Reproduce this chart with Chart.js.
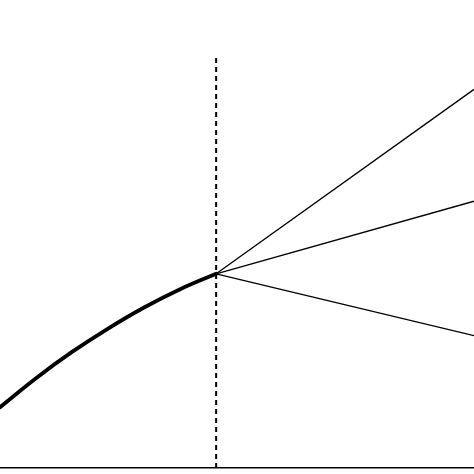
<!DOCTYPE html>
<html>
<head>
<meta charset="utf-8">
<script src="https://cdn.jsdelivr.net/npm/chart.js@4"></script>
<style>
html,body{margin:0;padding:0;background:#fff;}
#wrap{width:474px;height:474px;}
</style>
</head>
<body>
<div id="wrap"><canvas id="c" width="474" height="474"></canvas></div>
<script>
// Historical curve
const histX = [0, 7.6, 15.2, 22.8, 30.4, 38, 45.6];
const histY = [13.0, 19.2, 24.8, 29.8, 34.3, 38.2, 41.5];
// Projection scenarios (start at split point, end at right edge)
const projX = [45.6, 100];
const projHigh = [41.5, 80.9];
const projMid = [41.5, 57.0];
const projLow = [41.5, 28.3];
// Vertical marker
const markerX = [45.6, 45.6];
const markerY = [0, 88.4];

const pts = (xs, ys) => xs.map((x, i) => ({x: x, y: ys[i]}));

new Chart(document.getElementById('c'), {
  type: 'line',
  data: {
    datasets: [
      {data: pts(histX, histY), borderColor: '#000', borderWidth: 3.8, pointRadius: 0, tension: 0.4, borderCapStyle: 'round', borderJoinStyle: 'round'},
      {data: pts(projX, projHigh), borderColor: '#000', borderWidth: 1.3, pointRadius: 0},
      {data: pts(projX, projMid), borderColor: '#000', borderWidth: 1.3, pointRadius: 0},
      {data: pts(projX, projLow), borderColor: '#000', borderWidth: 1.3, pointRadius: 0},
      {data: pts(markerX, markerY), borderColor: '#000', borderWidth: 2, borderDash: [5, 4], pointRadius: 0}
    ]
  },
  options: {
    responsive: false,
    animation: false,
    devicePixelRatio: 1,
    layout: {padding: {left: 0, right: 0, top: 0, bottom: 6}},
    plugins: {legend: {display: false}, tooltip: {enabled: false}},
    scales: {
      x: {type: 'linear', min: 0, max: 100, display: true,
          ticks: {display: false}, grid: {display: false, drawTicks: false},
          border: {display: true, color: '#000', width: 1.5}},
      y: {type: 'linear', min: 0, max: 100, display: false}
    }
  }
});
</script>
</body>
</html>
